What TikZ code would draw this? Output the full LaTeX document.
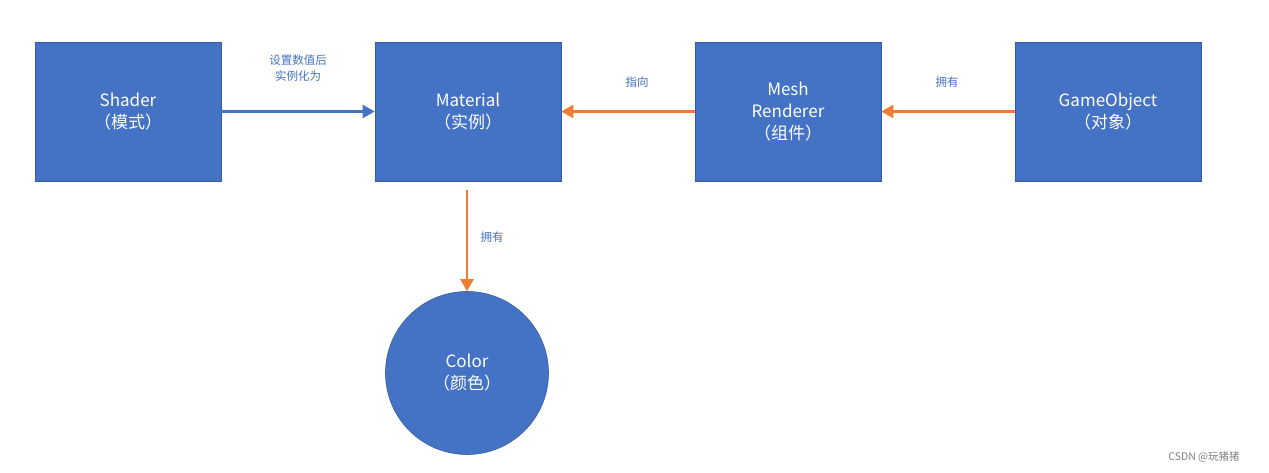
\documentclass[tikz,border=0pt]{standalone}
\usepackage{fontspec}
\setmainfont{Noto Sans CJK SC}
\usetikzlibrary{arrows.meta}
\definecolor{boxblue}{HTML}{4472C4}
\definecolor{arrorange}{HTML}{ED7D31}
\begin{document}
\begin{tikzpicture}[x=1pt,y=-1pt,
  box/.style={fill=boxblue,draw=boxblue!80!black,line width=0.6pt,minimum width=186pt,minimum height=139pt,text=white,font=\fontsize{17}{22}\selectfont,align=center,inner sep=0pt},
  oarr/.style={draw=arrorange,line width=2.2pt,-{Triangle[length=12pt,width=13pt]}},
  barr/.style={draw=boxblue,line width=2.2pt,-{Triangle[length=12pt,width=13pt]}},
  lbl/.style={font=\fontsize{11.5}{16}\selectfont,text=boxblue,align=center,inner sep=0pt}]
\useasboundingbox (0,0) rectangle (1269,473);
\fill[white] (0,0) rectangle (1269,473);
\node[box] (shader) at (128,111.5) {Shader\\（模式）};
\node[box] (mat) at (468,111.5) {Material\\（实例）};
\node[box] (mesh) at (788,111.5) {Mesh\\Renderer\\（组件）};
\node[box] (go) at (1108,111.5) {GameObject\\（对象）};
\node[circle,fill=boxblue,draw=boxblue!80!black,line width=0.6pt,minimum size=163pt,text=white,font=\fontsize{17}{22}\selectfont,align=center,inner sep=0pt] (color) at (467,373) {Color\\（颜色）};
\coordinate (mb) at (467,190);
\draw[barr] (shader.east) -- (mat.west);
\draw[oarr] (mesh.west) -- (mat.east);
\draw[oarr] (go.west) -- (mesh.east);
\draw[oarr] (mb) -- (color.north);
\node[lbl] (l1) at (298,68) {设置数值后\\实例化为};
\node[lbl] (l2) at (637,82) {指向};
\node[lbl] (l3) at (947,82) {拥有};
\node[lbl] (l4) at (492,237) {拥有};
\node[font=\fontsize{10.5}{12}\selectfont,text=gray,inner sep=0pt] (wm) at (1204,457) {CSDN @玩猪猪};
\end{tikzpicture}
\end{document}
